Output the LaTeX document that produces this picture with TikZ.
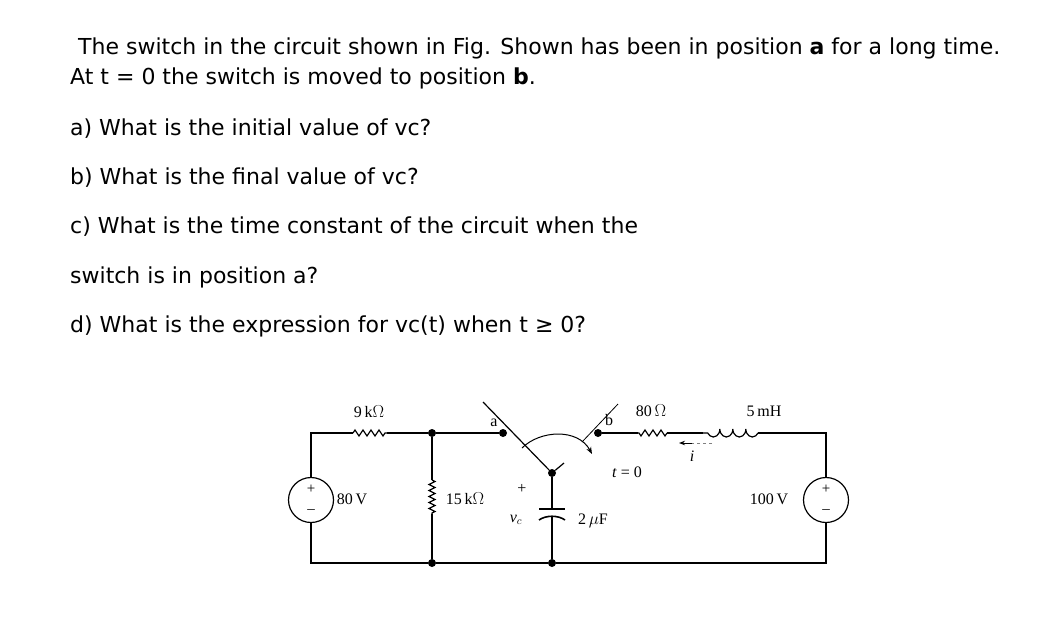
\documentclass[tikz,border=0pt]{standalone}
\usepackage{fontspec}
\setmainfont{DejaVu Sans}
\newfontfamily\circfont{Liberation Serif}
\usetikzlibrary{decorations.pathmorphing,arrows.meta}
\begin{document}
\begin{tikzpicture}[x=1pt,y=-1pt,
  qtext/.style={anchor=west,inner sep=0pt,font=\fontsize{22}{24}\selectfont},
  lbl/.style={inner sep=0pt,font=\circfont\fontsize{16}{17}\selectfont},
  wire/.style={line width=1.2pt},
  dot/.style={circle,fill=black,inner sep=0pt,minimum size=8pt},
  src/.style={circle,draw,line width=1.2pt,minimum size=45pt,inner sep=0pt},
  pm/.style={font=\circfont\fontsize{15}{16}\selectfont,inner sep=0pt},
  zig/.style={decorate,decoration={zigzag,segment length=8pt,amplitude=3pt}},
  coilst/.style={decorate,decoration={coil,aspect=0.6,segment length=13pt,amplitude=4pt}}]
\useasboundingbox (0,0) rectangle (1052,622);
\node[qtext] (t1) at (78,48) {The switch in the circuit shown in Fig. Shown has been in position \textbf{a} for a long time.};
\node[qtext] (t2) at (70,78) {At t = 0 the switch is moved to position \textbf{b}.};
\node[qtext] (t3) at (70,129) {a) What is the initial value of vc?};
\node[qtext] (t4) at (70,178) {b) What is the final value of vc?};
\node[qtext] (t5) at (70,227) {c) What is the time constant of the circuit when the};
\node[qtext] (t6) at (70,277) {switch is in position a?};
\node[qtext] (t7) at (70,326) {d) What is the expression for vc(t) when t \symbol{"2265} 0?};
% circuit
\coordinate (tl) at (311,433);
\coordinate (bl) at (311,563);
\node[src] (s1) at (311,500) {};
\node[pm] at (311,489) {+};
\node[pm] at (311,512) {\textendash};
\coordinate (r1a) at (353,433); \coordinate (r1b) at (387,433);
\node[dot] (j1) at (432,433) {};
\node[dot] (j1b) at (432,563) {};
\coordinate (r2a) at (432,480); \coordinate (r2b) at (432,514);
\node[dot] (na) at (503,433) {};
\node[dot] (piv) at (552,473) {};
\node[dot] (j2b) at (552,563) {};
\node[dot] (nb) at (598,433) {};
\coordinate (r3a) at (638,433); \coordinate (r3b) at (667,433);
\coordinate (l1a) at (703,433); \coordinate (l1b) at (758,433);
\coordinate (tr) at (826,433);
\coordinate (br) at (826,563);
\node[src] (s2) at (826,500) {};
\node[pm] at (826,489) {+};
\node[pm] at (826,512) {\textendash};
\draw[wire] (s1.north) -- (tl) -- (r1a);
\draw[wire,zig] (r1a) -- (r1b);
\draw[wire] (r1b) -- (j1) -- (na);
\draw[wire] (j1) -- (r2a);
\draw[wire,decorate,decoration={zigzag,segment length=6pt,amplitude=3pt}] (r2a) -- (r2b);
\draw[wire] (r2b) -- (j1b);
\draw[wire] (s1.south) -- (bl) -- (j1b) -- (j2b) -- (br) -- (s2.south);
\draw[wire] (s2.north) -- (tr) -- (l1b);
\draw[wire,coilst] (l1b) -- (l1a);
\draw[wire] (l1a) -- (r3b);
\draw[wire,zig] (r3b) -- (r3a);
\draw[wire] (r3a) -- (nb);
% switch blade
\coordinate (bladeend) at (483,402);
\draw[wire] (piv) -- (bladeend);
\draw[wire] (piv) -- (564,463);
\coordinate (bt) at (618,404);
\draw[line width=0.8pt] (582,442) -- (bt);
% capacitor
\coordinate (c1) at (552,509);
\draw[wire] (piv) -- (c1);
\draw[line width=1.6pt] (539,509) -- (565,509);
\draw[line width=1.6pt] (539,520) .. controls (546,515) and (558,515) .. (565,520);
\draw[wire] (552,516) -- (j2b);
% arc arrow
\draw[line width=1pt,-{Stealth[length=7pt]}] (522,448) .. controls (540,430) and (578,428) .. (592,454);
% current arrow
\draw[line width=0.8pt,dashed,gray] (712,443) -- (688,443);
\draw[-{Stealth[length=6pt]},line width=1pt] (692,443) -- (679,443);
% labels
\node[lbl] (l9k) at (369,412) {9\,k$\Omega$};
\node[lbl] (l80) at (352,499) {80\,V};
\node[lbl] (l15) at (465,499) {15\,k$\Omega$};
\node[lbl] (la) at (494,423) {a};
\node[lbl] (lb) at (609,420) {b};
\node[lbl] (l80o) at (651,411) {80\,$\Omega$};
\node[lbl] (l5m) at (764,411) {5\,mH};
\node[lbl] (lt) at (627,472) {\textit{t} = 0};
\node[lbl] (lplus) at (522,489) {+};
\node[lbl] (lvc) at (516,520) {\textit{v}$_c$};
\node[lbl] (l2u) at (593,521) {2\,$\mu$F};
\node[lbl] (li) at (692,456) {\textit{i}};
\node[lbl] (l100) at (769,499) {100\,V};
\end{tikzpicture}
\end{document}
